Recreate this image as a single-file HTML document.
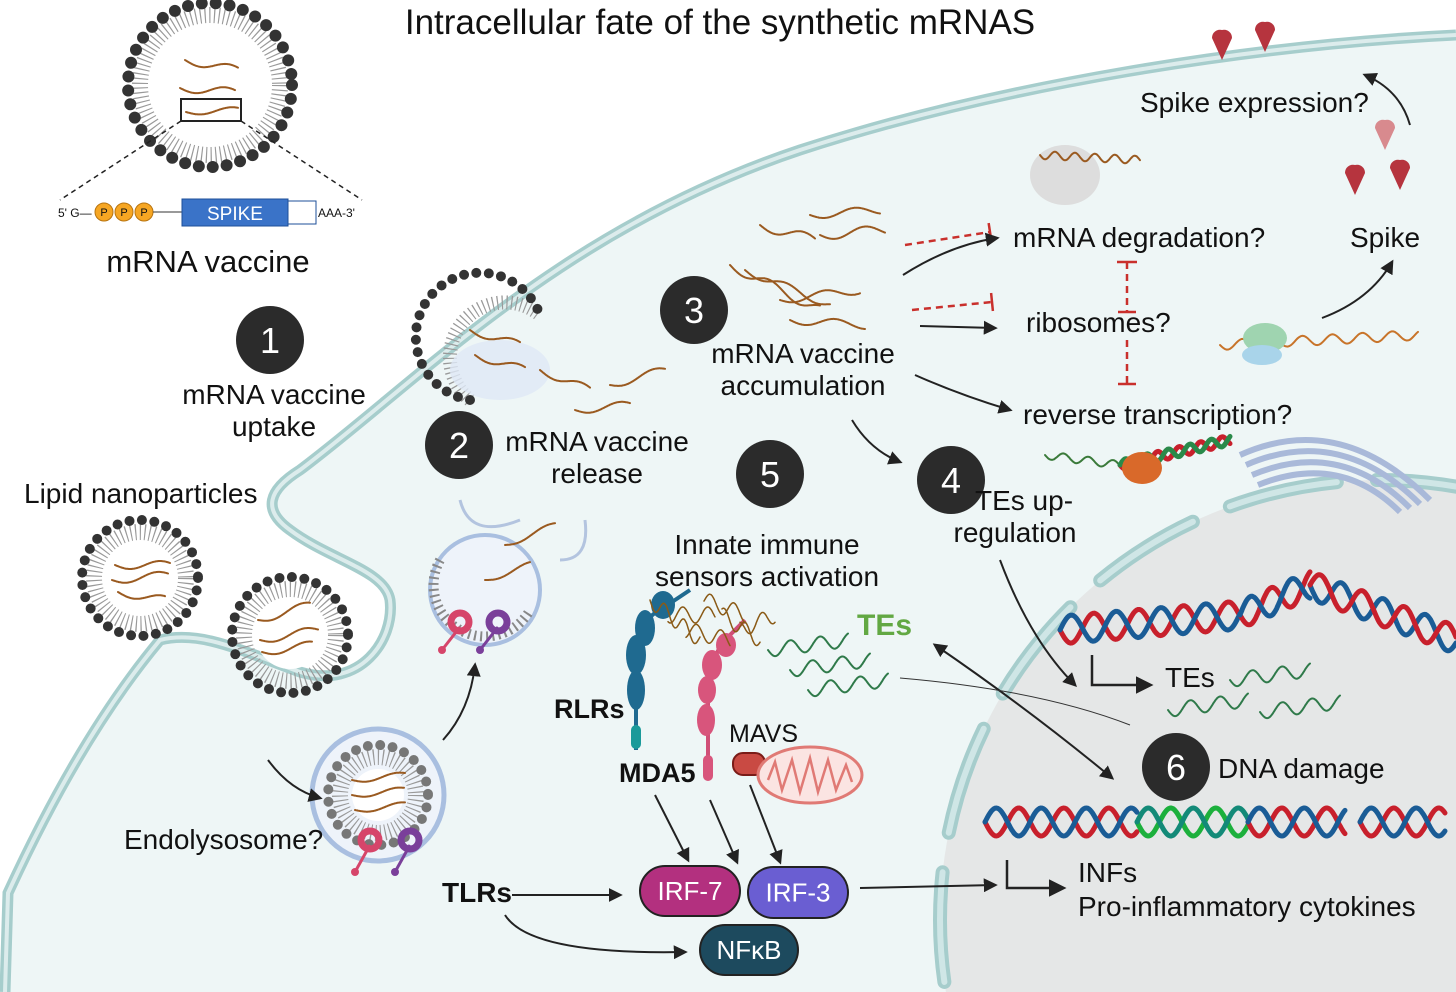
<!DOCTYPE html>
<html><head><meta charset="utf-8"><style>
html,body{margin:0;padding:0;background:#fff;overflow:hidden;width:1456px;height:992px;}
svg{display:block;}
text{font-family:"Liberation Sans",sans-serif;fill:#111;}
</style></head><body>
<svg id="s" width="1456" height="992" viewBox="0 0 1456 992" xmlns="http://www.w3.org/2000/svg">
<defs>
<marker id="ar" viewBox="0 0 10 10" refX="8" refY="5" markerWidth="7" markerHeight="7" orient="auto-start-reverse"><path d="M0,0 L10,5 L0,10 z" fill="#222"/></marker>
</defs>
<path d="M5,992 L8,893 C60,780 110,700 160,640 C200,630 240,650 300,672 C360,690 395,640 390,600 C385,570 330,560 290,530 C262,510 268,490 300,470 C420,380 560,230 800,150 C1000,85 1250,45 1456,35 L1456,992 Z" fill="#eef6f6"/>
<path d="M5,992 L8,893 C60,780 110,700 160,640 C200,630 240,650 300,672 C360,690 395,640 390,600 C385,570 330,560 290,530 C262,510 268,490 300,470 C420,380 560,230 800,150 C1000,85 1250,45 1456,35" fill="none" stroke="#a6cdcc" stroke-width="11"/>
<path d="M5,992 L8,893 C60,780 110,700 160,640 C200,630 240,650 300,672 C360,690 395,640 390,600 C385,570 330,560 290,530 C262,510 268,490 300,470 C420,380 560,230 800,150 C1000,85 1250,45 1456,35" fill="none" stroke="#dcecec" stroke-width="4"/>
<circle cx="1380" cy="920" r="440" fill="#e5e7e7"/>
<circle cx="1380" cy="920" r="440" fill="none" stroke="#a6cdcc" stroke-width="14" stroke-linecap="round" stroke-dasharray="110 40" stroke-dashoffset="30"/>
<circle cx="1380" cy="920" r="440" fill="none" stroke="#cfe6e6" stroke-width="6" stroke-linecap="round" stroke-dasharray="110 40" stroke-dashoffset="30"/>
<g id="g"></g>

<text x="720" y="34" font-size="35" text-anchor="middle">Intracellular fate of the synthetic mRNAS</text>
<text x="208" y="272" font-size="31" text-anchor="middle">mRNA vaccine</text>
<text x="274" y="404" font-size="28" text-anchor="middle">mRNA vaccine</text>
<text x="274" y="436" font-size="28" text-anchor="middle">uptake</text>
<text x="24" y="503" font-size="28">Lipid nanoparticles</text>
<text x="124" y="849" font-size="28">Endolysosome?</text>
<text x="442" y="902" font-size="28" font-weight="bold">TLRs</text>
<text x="597" y="451" font-size="28" text-anchor="middle">mRNA vaccine</text>
<text x="597" y="483" font-size="28" text-anchor="middle">release</text>
<text x="803" y="363" font-size="28" text-anchor="middle">mRNA vaccine</text>
<text x="803" y="395" font-size="28" text-anchor="middle">accumulation</text>
<text x="767" y="554" font-size="28" text-anchor="middle">Innate immune</text>
<text x="767" y="586" font-size="28" text-anchor="middle">sensors activation</text>
<text x="1015" y="542" font-size="28" text-anchor="middle">regulation</text>
<text x="1013" y="247" font-size="28">mRNA degradation?</text>
<text x="1026" y="332" font-size="28">ribosomes?</text>
<text x="1023" y="424" font-size="28">reverse transcription?</text>
<text x="1140" y="112" font-size="28">Spike expression?</text>
<text x="1350" y="247" font-size="28">Spike</text>
<text x="857" y="635" font-size="30" font-weight="bold" style="fill:#62a843">TEs</text>
<text x="554" y="718" font-size="27" font-weight="bold">RLRs</text>
<text x="619" y="782" font-size="27" font-weight="bold">MDA5</text>
<text x="729" y="742" font-size="25">MAVS</text>
<text x="1165" y="687" font-size="28">TEs</text>
<text x="1218" y="778" font-size="28">DNA damage</text>
<text x="1078" y="882" font-size="28">INFs</text>
<text x="1078" y="916" font-size="28">Pro-inflammatory cytokines</text>
</svg>
<script>
const NS="http://www.w3.org/2000/svg",G=document.getElementById('g');
function el(t,a,txt){const e=document.createElementNS(NS,t);for(const k in a)e.setAttribute(k,a[k]);if(txt!==undefined)e.textContent=txt;G.appendChild(e);return e;}
function wave(x0,y0,x1,y1,amp,per,ph,col,w){let d='';const n=120;const dx=x1-x0,dy=y1-y0;for(let i=0;i<=n;i++){const t=i/n;const x=x0+dx*t,y=y0+dy*t+amp*Math.sin(2*Math.PI*t*Math.hypot(dx,dy)/per+ph);d+=(i?'L':'M')+x.toFixed(1)+','+y.toFixed(1);}el('path',{d,fill:'none',stroke:col,'stroke-width':w||3,'stroke-linecap':'round'});}
function rna(x0,y0,x1,y1,amp){wave(x0,y0,x1,y1,amp||6,60,0,'#9a5a20',2);}
function lnp(cx,cy,r,gray){el('circle',{cx,cy,r:r-12,fill:'none',stroke:'#999','stroke-width':16,'stroke-dasharray':'1.2 3.5'});el('circle',{cx,cy,r:r-24,fill:'#fff'});el('circle',{cx,cy,r,fill:'none',stroke:gray?'#777':'#333','stroke-width':r>60?12:10,'stroke-linecap':'round','stroke-dasharray':'0 '+(r>60?14:12.5)});}
function badge(cx,cy,n){el('circle',{cx,cy,r:34,fill:'#2b2b2b'});el('text',{x:cx,y:cy+13,'font-size':36,'text-anchor':'middle',style:'fill:#fff'},n);}
function arrow(d,w){el('path',{d,fill:'none',stroke:'#222','stroke-width':w||2,'marker-end':'url(#ar)'});}
lnp(210,85,82);el('rect',{x:181,y:99,width:60,height:22,fill:'none',stroke:'#222','stroke-width':2});
rna(185,60,238,70,4);rna(180,88,235,92,4);rna(186,112,238,110,3);
el('path',{d:'M181,121 L60,200 M241,121 L362,200',stroke:'#222','stroke-width':1.5,'stroke-dasharray':'5 4',fill:'none'});
el('text',{x:58,y:217,'font-size':12},"5' G—");
[104,124,144].forEach(x=>{el('circle',{cx:x,cy:212,r:9,fill:'#f6a623',stroke:'#b87410'});el('text',{x,y:216,'font-size':11,'text-anchor':'middle'},'P');});
el('line',{x1:153,y1:212,x2:182,y2:212,stroke:'#333'});
el('rect',{x:182,y:199,width:106,height:27,fill:'#3a73c8',stroke:'#1d4f99'});
el('text',{x:235,y:220,'font-size':19,'text-anchor':'middle',style:'fill:#fff'},'SPIKE');
el('rect',{x:288,y:201,width:28,height:23,fill:'#fff',stroke:'#1d4f99'});
el('text',{x:318,y:217,'font-size':12},"AAA-3'");
lnp(140,578,58);rna(115,565,170,565,4);rna(112,580,168,575,4);rna(118,592,165,600,4);
lnp(290,635,58);rna(258,620,310,605,4);rna(260,640,318,630,4);rna(262,652,312,645,4);
el('circle',{cx:378,cy:795,r:66,fill:'#eef3fa',stroke:'#a9bfe0','stroke-width':5});
lnp(378,795,50,true);rna(352,780,405,775,3);rna(352,795,404,790,3);rna(355,810,405,805,3);
el('circle',{cx:485,cy:590,r:55,fill:'#eef3fa',stroke:'#a9bfe0','stroke-width':4});
el('path',{d:'M440,560 A50,50 0 0,0 530,610',fill:'none',stroke:'#888','stroke-width':10,'stroke-dasharray':'2 4'});
el('path',{d:'M460,500 Q470,540 520,520 M560,560 Q590,560 585,520',fill:'none',stroke:'#b3c4df','stroke-width':3});
rna(505,545,555,525,3);rna(485,580,530,565,3);
[[370,840,'#d6456a'],[410,840,'#7a3f9a']].forEach(([x,y,c])=>{el('circle',{cx:x,cy:y,r:9,fill:'none',stroke:c,'stroke-width':7});el('line',{x1:x,y1:y+5,x2:x-15,y2:y+32,stroke:c,'stroke-width':3});el('circle',{cx:x-15,cy:y+32,r:4,fill:c});});
[[460,622,'#d6456a'],[498,622,'#7a3f9a']].forEach(([x,y,c])=>{el('circle',{cx:x,cy:y,r:9,fill:'none',stroke:c,'stroke-width':7});el('line',{x1:x,y1:y+5,x2:x-18,y2:y+28,stroke:c,'stroke-width':3});el('circle',{cx:x-18,cy:y+28,r:4,fill:c});});
el('path',{d:'M470,400 A52,52 0 1,1 540,315',fill:'none',stroke:'#999','stroke-width':14,'stroke-dasharray':'1.2 3.5'});
el('path',{d:'M470,400 A64,64 0 1,1 540,315',fill:'none',stroke:'#333','stroke-width':10,'stroke-linecap':'round','stroke-dasharray':'0 12.5'});
el('ellipse',{cx:500,cy:370,rx:50,ry:30,fill:'#dfe9f6',opacity:.8});
rna(470,330,520,345,4);rna(475,355,525,370,4);rna(540,370,590,390,4);rna(610,385,665,370,4);rna(575,410,630,405,4);
rna(760,225,815,240,5);rna(730,265,820,310,5);rna(745,270,830,305,4);rna(780,300,860,290,4);rna(820,235,885,230,5);rna(790,320,865,325,4);rna(810,215,880,210,4);
badge(270,340,'1');badge(459,445,'2');badge(694,310,'3');badge(770,474,'5');badge(951,480,'4');badge(1176,767,'6');
el('text',{x:975,y:510,'font-size':28},'TEs up-');
function inh(x1,y1,x2,y2){el('line',{x1,y1,x2,y2,stroke:'#c9302c','stroke-width':2.5,'stroke-dasharray':'7 5'});const a=Math.atan2(y2-y1,x2-x1)+Math.PI/2;el('line',{x1:x2+9*Math.cos(a),y1:y2+9*Math.sin(a),x2:x2-9*Math.cos(a),y2:y2-9*Math.sin(a),stroke:'#c9302c','stroke-width':2.5});}
inh(905,245,990,232);inh(912,310,992,302);inh(1127,262,1127,312);inh(1127,340,1127,384);
el('line',{x1:1117,y1:262,x2:1137,y2:262,stroke:'#c9302c','stroke-width':2.5});
arrow('M903,275 Q950,245 997,238');arrow('M920,326 L995,328');arrow('M915,375 Q960,395 1010,410');arrow('M852,420 Q870,450 900,462');
arrow('M1322,318 Q1370,300 1392,262');arrow('M1410,125 Q1400,90 1365,75');
arrow('M268,760 Q290,790 320,798');arrow('M443,740 Q470,710 475,665');
arrow('M512,895 L620,895');arrow('M505,915 Q530,955 685,952');
arrow('M655,795 L688,860');arrow('M710,800 L737,862');arrow('M750,785 L780,862');
arrow('M860,888 L995,885');
arrow('M1000,560 Q1030,640 1075,685');
el('path',{d:'M935,645 Q1030,710 1112,778',fill:'none',stroke:'#222','stroke-width':2,'marker-end':'url(#ar)','marker-start':'url(#ar)'});
el('path',{d:'M900,678 Q1040,690 1130,725',fill:'none',stroke:'#333','stroke-width':1});
el('path',{d:'M1092,655 L1092,685 L1150,685',fill:'none',stroke:'#222','stroke-width':2.5,'marker-end':'url(#ar)'});
el('path',{d:'M1007,860 L1007,888 L1063,888',fill:'none',stroke:'#222','stroke-width':2.5,'marker-end':'url(#ar)'});
function pill(x,y,w,h,c,t){el('rect',{x,y,width:w,height:h,rx:h/2,fill:c,stroke:'#222','stroke-width':2});el('text',{x:x+w/2,y:y+h/2+9,'font-size':26,'text-anchor':'middle',style:'fill:#fff'},t);}
pill(640,866,100,50,'#b3307f','IRF-7');pill(748,867,100,51,'#6a5ed2','IRF-3');pill(700,925,98,50,'#1d4a5e','NFκB');
el('path',{d:'M636,750 L636,650 Q640,620 660,610 L690,590',fill:'none',stroke:'#1f6a90','stroke-width':4});
[[636,690,9,20],[636,655,10,20],[645,628,10,18],[663,605,12,14]].forEach(([x,y,rx,ry])=>el('ellipse',{cx:x,cy:y,rx,ry,fill:'#1f6a90'}));
el('rect',{x:631,y:725,width:10,height:24,rx:5,fill:'#1a9a9a'});
el('path',{d:'M708,780 L708,690 Q712,650 730,635 L745,620',fill:'none',stroke:'#d04f77','stroke-width':4});
[[706,720,9,16],[707,690,9,14],[712,665,10,15],[726,645,10,12]].forEach(([x,y,rx,ry])=>el('ellipse',{cx:x,cy:y,rx,ry,fill:'#d8557c'}));
el('rect',{x:703,y:755,width:10,height:26,rx:5,fill:'#d8557c'});
for(let i=0;i<6;i++){wave(650+i*18,600+(i%3)*15,700+i*15,640-(i%2)*25,8,25,i,'#8a5a16',1.5);}
el('rect',{x:733,y:753,width:32,height:22,rx:10,fill:'#c94a43',stroke:'#7a1c18','stroke-width':2});
el('ellipse',{cx:810,cy:775,rx:52,ry:28,fill:'#fbe4e2',stroke:'#e07a75','stroke-width':3});
el('path',{d:'M768,780 L775,762 L782,790 L792,760 L800,792 L810,758 L818,792 L828,760 L836,790 L846,765 L852,782',fill:'none',stroke:'#e07a75','stroke-width':2.5});
for(const[x,y]of[[768,650],[790,670],[808,690],[1230,680],[1168,710],[1260,712]])wave(x,y,x+80,y-10,7,30,0,'#2f7a4a',2);
function dna(x0,y0,x1,y1,amp,per,c1,c2){wave(x0,y0,x1,y1,amp,per,0,c1,5);wave(x0,y0,x1,y1,amp,per,Math.PI,c2,5);}
dna(1060,630,1240,615,14,45,'#c8202c','#1a5c96');dna(1240,615,1310,585,14,45,'#c8202c','#1a5c96');dna(1310,585,1456,640,14,45,'#1a5c96','#c8202c');
dna(985,822,1137,822,14,45,'#c8202c','#1a5c96');dna(1137,822,1248,822,14,45,'#1cb03c','#138a78');dna(1248,822,1345,822,14,45,'#c8202c','#1a5c96');dna(1360,822,1445,822,14,45,'#c8202c','#1a5c96');
wave(1220,345,1418,335,5,30,0,'#c8742a',2);
el('ellipse',{cx:1265,cy:338,rx:22,ry:15,fill:'#9fd4b0'});el('ellipse',{cx:1262,cy:355,rx:20,ry:10,fill:'#a9d4ea'});
wave(1045,455,1120,465,4,25,0,'#3a7a3a',2);dna(1120,465,1230,440,5,22,'#c8202c','#2a8a4a');
el('ellipse',{cx:1142,cy:468,rx:20,ry:16,fill:'#d9692a'});
for(let i=0;i<4;i++)el('path',{d:`M${1240+i*6},${455+i*10} Q1340,${410+i*14} ${1430-i*10},${500+i*4}`,fill:'none',stroke:'#a9b9d9','stroke-width':6});
el('ellipse',{cx:1065,cy:175,rx:35,ry:30,fill:'#ddd'});wave(1040,155,1140,160,4,20,0,'#9a5a20',2);
function spike(x,y,c){el('path',{d:`M${x},${y} l-10,-22 a8,8 0 0,1 10,-8 a8,8 0 0,1 10,8 z`,fill:c});}
spike(1222,60,'#b6343e');spike(1265,52,'#b6343e');spike(1355,195,'#b6343e');spike(1385,150,'#d88a8e');spike(1400,190,'#b6343e');
</script>
</body></html>
